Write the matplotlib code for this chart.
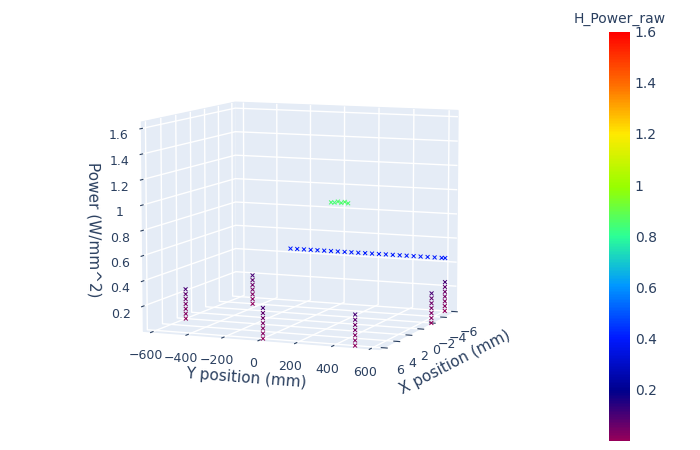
import numpy as np
import matplotlib
matplotlib.use("Agg")
import matplotlib.pyplot as plt
from matplotlib.colors import LinearSegmentedColormap

# cluster data: x (mm), y (mm), power (W/mm^2), raw power
green_x = [-6]*6
green_y = [-60, -40, -20, 0, 20, 40]
green_z = [0.85, 0.85, 0.86, 0.85, 0.86, 0.85]
green_c = [0.85, 0.84, 0.86, 0.85, 0.86, 0.85]

blue_y = [-300, -260, -220, -180, -140, -100, -60, -20, 20, 60, 100, 140, 180,
          220, 260, 300, 340, 380, 420, 460, 500, 540, 580, 600]
blue_x = [-6]*len(blue_y)
blue_z = [0.44]*len(blue_y)
blue_c = [0.40]*len(blue_y)

col_z = [0.0, 0.04, 0.08, 0.12, 0.16, 0.2, 0.24]
col_xy = [(-6, 600), (6, 0), (-4, -450), (2, -600), (6, 500), (-2, 650)]
col_c = [0.01, 0.02, 0.03, 0.04, 0.05, 0.07, 0.1]

fig = plt.figure(figsize=(7, 4.5), dpi=100)
ax = fig.add_axes([0.0, 0.0, 0.85, 1.0], projection='3d')

cmap = LinearSegmentedColormap.from_list('rb', [
    (0.0, '#96005a'), (0.12, '#00008c'), (0.25, '#0019ff'), (0.38, '#0098ff'),
    (0.5, '#2cff96'), (0.62, '#97ff00'), (0.75, '#ffea00'), (0.87, '#ff6f00'), (1.0, '#ff0000')])

xs, ys, zs, cs = [], [], [], []
xs += green_x; ys += green_y; zs += green_z; cs += green_c
xs += blue_x; ys += blue_y; zs += blue_z; cs += blue_c
for (cx, cy) in col_xy:
    for z, c in zip(col_z, col_c):
        xs.append(cx); ys.append(cy); zs.append(z); cs.append(c)

sc = ax.scatter(xs, ys, zs, c=cs, cmap=cmap, vmin=0, vmax=1.6, marker='x', s=8, linewidths=0.7, depthshade=False)

ax.set_xlim(-6.5, 6.5)
ax.set_ylim(-650, 650)
ax.set_zlim(0, 1.65)
ax.set_xticks([-6, -4, -2, 0, 2, 4, 6])
ax.set_yticks([-600, -400, -200, 0, 200, 400, 600])
ax.set_zticks([0.2, 0.4, 0.6, 0.8, 1, 1.2, 1.4, 1.6])
ax.set_zticklabels(['0.2', '0.4', '0.6', '0.8', '1', '1.2', '1.4', '1.6'])
ax.set_xlabel('X position (mm)', color='#2a3f5f', fontsize=11)
ax.set_ylabel('Y position (mm)', color='#2a3f5f', fontsize=11)
ax.set_zlabel('Power (W/mm^2)', color='#2a3f5f', fontsize=11)
ax.tick_params(colors='#2a3f5f', labelsize=9)
for a in (ax.xaxis, ax.yaxis, ax.zaxis):
    a.set_pane_color((0.898, 0.925, 0.965, 1.0))
    a._axinfo['grid']['color'] = 'white'
    a._axinfo['grid']['linewidth'] = 1.0
    a.line.set_color((1, 1, 1, 0))
ax.view_init(elev=8, azim=22)
ax.set_box_aspect((1.1, 1.2, 1), zoom=0.85)

cax = fig.add_axes([0.87, 0.02, 0.03, 0.91])
cb = fig.colorbar(sc, cax=cax)
cb.set_ticks([0.2, 0.4, 0.6, 0.8, 1, 1.2, 1.4, 1.6])
cb.set_ticklabels(['0.2', '0.4', '0.6', '0.8', '1', '1.2', '1.4', '1.6'])
cb.outline.set_visible(False)
cb.ax.tick_params(colors='#2a3f5f', labelsize=10, length=0)
cax.set_title('H_Power_raw', color='#2a3f5f', fontsize=10, pad=6)

fig.savefig('out.png', dpi=100)
